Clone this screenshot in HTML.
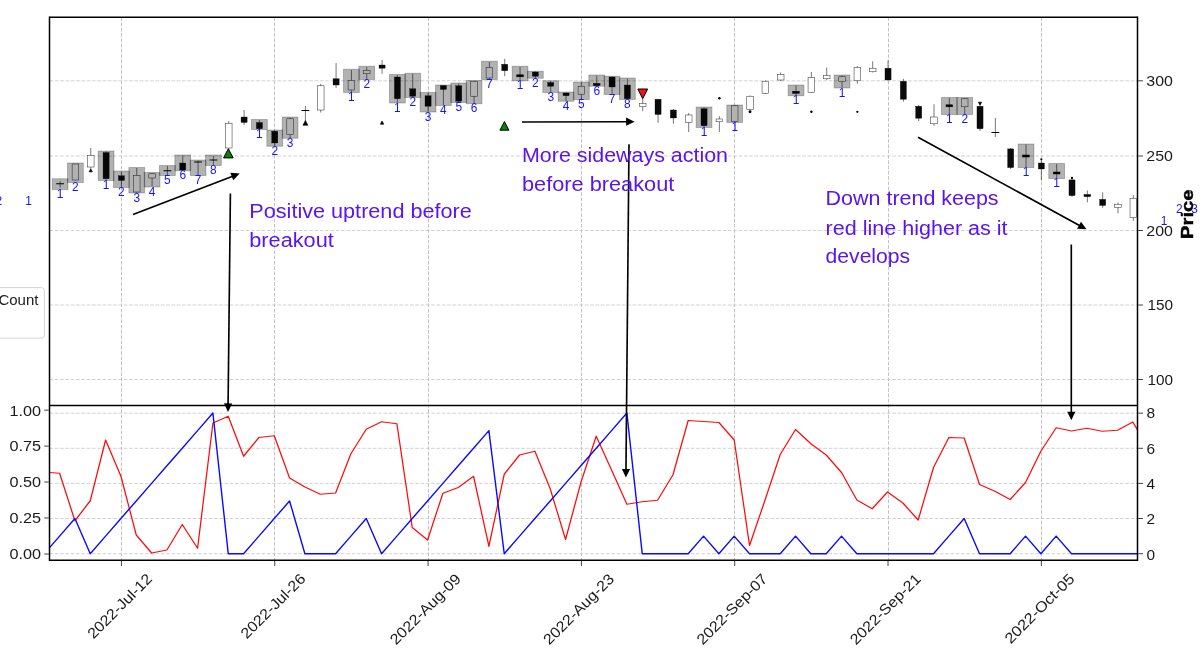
<!DOCTYPE html>
<html><head><meta charset="utf-8"><title>chart</title>
<style>
html,body{margin:0;padding:0;background:#fff;}
body{width:1200px;height:657px;overflow:hidden;font-family:"Liberation Sans",sans-serif;}
svg{display:block;will-change:transform;opacity:0.9999;}
text{font-family:"Liberation Sans",sans-serif;}
.tk{font-size:14.6px;fill:#1a1a1a;}
.lb{font-size:11.9px;fill:#1414ff;text-anchor:middle;}
.an{font-size:19.4px;fill:#5a14f0;}
</style></head><body>
<svg width="1200" height="657" viewBox="0 0 1200 657">
<rect width="1200" height="657" fill="#fff"/>
<defs>
<clipPath id="c1"><rect x="49.5" y="17.2" width="1088" height="388.3"/></clipPath>
<clipPath id="c2"><rect x="49.5" y="405.5" width="1088" height="154.7"/></clipPath>
</defs>

<g stroke="#b4b4b4" stroke-width="0.8" stroke-dasharray="3.7,1.6" fill="none">
<path d="M121.50 17.2V560.2"/>
<path d="M274.50 17.2V560.2"/>
<path d="M428.50 17.2V560.2"/>
<path d="M581.50 17.2V560.2"/>
<path d="M734.50 17.2V560.2"/>
<path d="M888.50 17.2V560.2"/>
<path d="M1041.50 17.2V560.2"/>
</g>
<g stroke="#c6c6c6" stroke-width="0.8" stroke-dasharray="3.7,1.6" fill="none">
<path d="M49.5 80.8H1137.5"/>
<path d="M49.5 156H1137.5"/>
<path d="M49.5 230.5H1137.5"/>
<path d="M49.5 305H1137.5"/>
<path d="M49.5 379.5H1137.5"/>
<path d="M49.5 413.2H1137.5"/>
<path d="M49.5 448.3H1137.5"/>
<path d="M49.5 483.4H1137.5"/>
<path d="M49.5 518.5H1137.5"/>
<path d="M49.5 553.7H1137.5"/>
</g>
<g clip-path="url(#c1)">
<path d="M60.10 181V187.5" stroke="#222" stroke-width="0.62"/>
<path d="M56.20 183.75H64.00" stroke="#000" stroke-width="1"/>
<path d="M75.43 164V180.5" stroke="#222" stroke-width="0.62"/>
<rect x="72.13" y="164" width="6.6" height="16.00" fill="#fff" stroke="#3a3a3a" stroke-width="0.55"/>
<path d="M90.76 148V168.75" stroke="#222" stroke-width="0.62"/>
<rect x="87.46" y="155.5" width="6.6" height="11.50" fill="#fff" stroke="#3a3a3a" stroke-width="0.55"/>
<path d="M106.10 151.5V180" stroke="#222" stroke-width="0.62"/>
<rect x="103.05" y="152.5" width="6.1" height="26.25" fill="#0a0a0a" stroke="#000" stroke-width="0.3"/>
<path d="M121.43 172V187" stroke="#222" stroke-width="0.62"/>
<rect x="118.38" y="175.75" width="6.1" height="4.75" fill="#0a0a0a" stroke="#000" stroke-width="0.3"/>
<path d="M136.76 168V192.5" stroke="#222" stroke-width="0.62"/>
<rect x="133.46" y="175.5" width="6.6" height="16.50" fill="#fff" stroke="#3a3a3a" stroke-width="0.55"/>
<path d="M152.09 173V186" stroke="#222" stroke-width="0.62"/>
<rect x="148.79" y="173.75" width="6.6" height="4.25" fill="#fff" stroke="#3a3a3a" stroke-width="0.55"/>
<path d="M167.42 166V175" stroke="#222" stroke-width="0.62"/>
<path d="M163.52 170.75H171.32" stroke="#000" stroke-width="1"/>
<path d="M182.76 155.5V170.5" stroke="#222" stroke-width="0.62"/>
<rect x="179.71" y="163" width="6.1" height="7.00" fill="#0a0a0a" stroke="#000" stroke-width="0.3"/>
<path d="M198.09 160.5V175" stroke="#222" stroke-width="0.62"/>
<path d="M194.19 162H201.99" stroke="#000" stroke-width="1"/>
<path d="M213.42 156V165" stroke="#222" stroke-width="0.62"/>
<path d="M209.52 160H217.32" stroke="#000" stroke-width="1"/>
<path d="M228.75 121V148.5" stroke="#222" stroke-width="0.62"/>
<rect x="225.45" y="123.25" width="6.6" height="24.75" fill="#fff" stroke="#3a3a3a" stroke-width="0.55"/>
<path d="M244.08 110V125" stroke="#222" stroke-width="0.62"/>
<rect x="241.03" y="117" width="6.1" height="5.50" fill="#0a0a0a" stroke="#000" stroke-width="0.3"/>
<path d="M259.42 120V129" stroke="#222" stroke-width="0.62"/>
<rect x="256.37" y="122.5" width="6.1" height="6.25" fill="#0a0a0a" stroke="#000" stroke-width="0.3"/>
<path d="M274.75 130.5V145.75" stroke="#222" stroke-width="0.62"/>
<rect x="271.70" y="131.25" width="6.1" height="11.75" fill="#0a0a0a" stroke="#000" stroke-width="0.3"/>
<path d="M290.08 117.5V138" stroke="#222" stroke-width="0.62"/>
<rect x="286.78" y="118.75" width="6.6" height="15.75" fill="#fff" stroke="#3a3a3a" stroke-width="0.55"/>
<path d="M305.41 106V121" stroke="#222" stroke-width="0.62"/>
<path d="M301.51 110.5H309.31" stroke="#000" stroke-width="1"/>
<path d="M320.74 83.75V112.5" stroke="#222" stroke-width="0.62"/>
<rect x="317.44" y="85.75" width="6.6" height="24.25" fill="#fff" stroke="#3a3a3a" stroke-width="0.55"/>
<path d="M336.08 63V88" stroke="#222" stroke-width="0.62"/>
<rect x="333.03" y="78.75" width="6.1" height="6.25" fill="#0a0a0a" stroke="#000" stroke-width="0.3"/>
<path d="M351.41 70V92" stroke="#222" stroke-width="0.62"/>
<rect x="348.11" y="80.5" width="6.6" height="9.50" fill="#fff" stroke="#3a3a3a" stroke-width="0.55"/>
<path d="M366.74 67V79" stroke="#222" stroke-width="0.62"/>
<rect x="363.44" y="70.5" width="6.6" height="3.25" fill="#fff" stroke="#3a3a3a" stroke-width="0.55"/>
<path d="M382.07 60V73.75" stroke="#222" stroke-width="0.62"/>
<rect x="379.02" y="65" width="6.1" height="3.25" fill="#0a0a0a" stroke="#000" stroke-width="0.3"/>
<path d="M397.40 75V102.5" stroke="#222" stroke-width="0.62"/>
<rect x="394.35" y="77" width="6.1" height="21.75" fill="#0a0a0a" stroke="#000" stroke-width="0.3"/>
<path d="M412.74 73.75V97" stroke="#222" stroke-width="0.62"/>
<rect x="409.69" y="88.75" width="6.1" height="7.50" fill="#0a0a0a" stroke="#000" stroke-width="0.3"/>
<path d="M428.07 93V111.5" stroke="#222" stroke-width="0.62"/>
<rect x="425.02" y="95.75" width="6.1" height="10.50" fill="#0a0a0a" stroke="#000" stroke-width="0.3"/>
<path d="M443.40 85.5V105" stroke="#222" stroke-width="0.62"/>
<rect x="440.35" y="85.5" width="6.1" height="4.00" fill="#0a0a0a" stroke="#000" stroke-width="0.3"/>
<path d="M458.73 83.5V102" stroke="#222" stroke-width="0.62"/>
<rect x="455.68" y="85.75" width="6.1" height="15.50" fill="#0a0a0a" stroke="#000" stroke-width="0.3"/>
<path d="M474.06 81V103" stroke="#222" stroke-width="0.62"/>
<rect x="470.76" y="81.25" width="6.6" height="15.00" fill="#fff" stroke="#3a3a3a" stroke-width="0.55"/>
<path d="M489.40 62V79" stroke="#222" stroke-width="0.62"/>
<rect x="486.10" y="67.5" width="6.6" height="10.50" fill="#fff" stroke="#3a3a3a" stroke-width="0.55"/>
<path d="M504.73 58.75V76.25" stroke="#222" stroke-width="0.62"/>
<rect x="501.68" y="64.25" width="6.1" height="6.50" fill="#0a0a0a" stroke="#000" stroke-width="0.3"/>
<path d="M520.06 67V80" stroke="#222" stroke-width="0.62"/>
<rect x="516.76" y="74.8" width="6.6" height="2.00" fill="#000" stroke="#000" stroke-width="0.5"/>
<path d="M535.39 71.5V78" stroke="#222" stroke-width="0.62"/>
<rect x="532.34" y="72" width="6.1" height="4.25" fill="#0a0a0a" stroke="#000" stroke-width="0.3"/>
<path d="M550.72 81V92" stroke="#222" stroke-width="0.62"/>
<rect x="547.67" y="82.5" width="6.1" height="3.75" fill="#0a0a0a" stroke="#000" stroke-width="0.3"/>
<path d="M566.06 92.5V101" stroke="#222" stroke-width="0.62"/>
<rect x="563.01" y="93" width="6.1" height="2.75" fill="#0a0a0a" stroke="#000" stroke-width="0.3"/>
<path d="M581.39 82.5V99" stroke="#222" stroke-width="0.62"/>
<rect x="578.09" y="86.25" width="6.6" height="8.00" fill="#fff" stroke="#3a3a3a" stroke-width="0.55"/>
<path d="M596.72 75.75V86" stroke="#222" stroke-width="0.62"/>
<rect x="593.42" y="83.5" width="6.6" height="2.00" fill="#000" stroke="#000" stroke-width="0.5"/>
<path d="M612.05 76.5V93.75" stroke="#222" stroke-width="0.62"/>
<rect x="609.00" y="77" width="6.1" height="10.00" fill="#0a0a0a" stroke="#000" stroke-width="0.3"/>
<path d="M627.38 78.75V99" stroke="#222" stroke-width="0.62"/>
<rect x="624.33" y="85" width="6.1" height="13.75" fill="#0a0a0a" stroke="#000" stroke-width="0.3"/>
<path d="M642.72 98.75V111.2" stroke="#222" stroke-width="0.62"/>
<rect x="639.42" y="103.6" width="6.6" height="3.10" fill="#fff" stroke="#3a3a3a" stroke-width="0.55"/>
<path d="M658.05 99V122.9" stroke="#222" stroke-width="0.62"/>
<rect x="655.00" y="99.25" width="6.1" height="15.25" fill="#0a0a0a" stroke="#000" stroke-width="0.3"/>
<path d="M673.38 109V123.75" stroke="#222" stroke-width="0.62"/>
<rect x="670.33" y="110" width="6.1" height="8.00" fill="#0a0a0a" stroke="#000" stroke-width="0.3"/>
<path d="M688.71 113V132" stroke="#222" stroke-width="0.62"/>
<rect x="685.41" y="115" width="6.6" height="7.50" fill="#fff" stroke="#3a3a3a" stroke-width="0.55"/>
<path d="M704.04 107.5V127" stroke="#222" stroke-width="0.62"/>
<rect x="700.99" y="108.75" width="6.1" height="17.00" fill="#0a0a0a" stroke="#000" stroke-width="0.3"/>
<path d="M719.38 116.25V132" stroke="#222" stroke-width="0.62"/>
<rect x="716.08" y="119" width="6.6" height="2.75" fill="#fff" stroke="#3a3a3a" stroke-width="0.55"/>
<path d="M734.71 105.5V122" stroke="#222" stroke-width="0.62"/>
<rect x="731.41" y="105.75" width="6.6" height="15.50" fill="#fff" stroke="#3a3a3a" stroke-width="0.55"/>
<path d="M750.04 95.5V110" stroke="#222" stroke-width="0.62"/>
<rect x="746.74" y="96.25" width="6.6" height="13.25" fill="#fff" stroke="#3a3a3a" stroke-width="0.55"/>
<path d="M765.37 80.5V94" stroke="#222" stroke-width="0.62"/>
<rect x="762.07" y="81.25" width="6.6" height="12.00" fill="#fff" stroke="#3a3a3a" stroke-width="0.55"/>
<path d="M780.70 72.5V81" stroke="#222" stroke-width="0.62"/>
<rect x="777.40" y="74.5" width="6.6" height="5.50" fill="#fff" stroke="#3a3a3a" stroke-width="0.55"/>
<path d="M796.04 85.5V95" stroke="#222" stroke-width="0.62"/>
<rect x="792.74" y="91.25" width="6.6" height="2.00" fill="#000" stroke="#000" stroke-width="0.5"/>
<path d="M811.37 72V93" stroke="#222" stroke-width="0.62"/>
<rect x="808.07" y="77.5" width="6.6" height="15.00" fill="#fff" stroke="#3a3a3a" stroke-width="0.55"/>
<path d="M826.70 67.5V80" stroke="#222" stroke-width="0.62"/>
<rect x="823.40" y="75.5" width="6.6" height="3.25" fill="#fff" stroke="#3a3a3a" stroke-width="0.55"/>
<path d="M842.03 75.5V87.5" stroke="#222" stroke-width="0.62"/>
<rect x="838.73" y="76.75" width="6.6" height="4.50" fill="#fff" stroke="#3a3a3a" stroke-width="0.55"/>
<path d="M857.36 66V83.75" stroke="#222" stroke-width="0.62"/>
<rect x="854.06" y="67.5" width="6.6" height="13.25" fill="#fff" stroke="#3a3a3a" stroke-width="0.55"/>
<path d="M872.70 61.25V72.5" stroke="#222" stroke-width="0.62"/>
<rect x="869.40" y="68.25" width="6.6" height="3.50" fill="#fff" stroke="#3a3a3a" stroke-width="0.55"/>
<path d="M888.03 60.5V80.5" stroke="#222" stroke-width="0.62"/>
<rect x="884.98" y="68.25" width="6.1" height="11.75" fill="#0a0a0a" stroke="#000" stroke-width="0.3"/>
<path d="M903.36 78.75V101.75" stroke="#222" stroke-width="0.62"/>
<rect x="900.31" y="81.25" width="6.1" height="18.00" fill="#0a0a0a" stroke="#000" stroke-width="0.3"/>
<path d="M918.69 105V121" stroke="#222" stroke-width="0.62"/>
<rect x="915.64" y="106.25" width="6.1" height="12.00" fill="#0a0a0a" stroke="#000" stroke-width="0.3"/>
<path d="M934.02 104.25V125.75" stroke="#222" stroke-width="0.62"/>
<rect x="930.72" y="117" width="6.6" height="6.75" fill="#fff" stroke="#3a3a3a" stroke-width="0.55"/>
<path d="M949.36 98V114" stroke="#222" stroke-width="0.62"/>
<rect x="946.06" y="104.8" width="6.6" height="2.00" fill="#000" stroke="#000" stroke-width="0.5"/>
<path d="M964.69 98V114" stroke="#222" stroke-width="0.62"/>
<rect x="961.39" y="98.75" width="6.6" height="8.00" fill="#fff" stroke="#3a3a3a" stroke-width="0.55"/>
<path d="M980.02 105.5V131" stroke="#222" stroke-width="0.62"/>
<rect x="976.97" y="106.25" width="6.1" height="22.50" fill="#0a0a0a" stroke="#000" stroke-width="0.3"/>
<path d="M995.35 118V137" stroke="#222" stroke-width="0.62"/>
<path d="M991.45 132.5H999.25" stroke="#000" stroke-width="1"/>
<path d="M1010.68 148V169" stroke="#222" stroke-width="0.62"/>
<rect x="1007.63" y="148.9" width="6.1" height="18.70" fill="#0a0a0a" stroke="#000" stroke-width="0.3"/>
<path d="M1026.02 144.5V167" stroke="#222" stroke-width="0.62"/>
<rect x="1022.72" y="155.0" width="6.6" height="2.00" fill="#000" stroke="#000" stroke-width="0.5"/>
<path d="M1041.35 160V180.4" stroke="#222" stroke-width="0.62"/>
<rect x="1038.30" y="163" width="6.1" height="6.00" fill="#0a0a0a" stroke="#000" stroke-width="0.3"/>
<path d="M1056.68 164V178" stroke="#222" stroke-width="0.62"/>
<rect x="1053.38" y="172.0" width="6.6" height="2.00" fill="#000" stroke="#000" stroke-width="0.5"/>
<path d="M1072.01 179V197" stroke="#222" stroke-width="0.62"/>
<rect x="1068.96" y="179.9" width="6.1" height="15.70" fill="#0a0a0a" stroke="#000" stroke-width="0.3"/>
<path d="M1087.34 190.5V202.4" stroke="#222" stroke-width="0.62"/>
<rect x="1084.04" y="194.6" width="6.6" height="2.00" fill="#000" stroke="#000" stroke-width="0.5"/>
<path d="M1102.68 192.3V207.9" stroke="#222" stroke-width="0.62"/>
<rect x="1099.63" y="199.3" width="6.1" height="6.20" fill="#0a0a0a" stroke="#000" stroke-width="0.3"/>
<path d="M1118.01 202.4V213.4" stroke="#222" stroke-width="0.62"/>
<rect x="1114.71" y="204.25" width="6.6" height="3.25" fill="#fff" stroke="#3a3a3a" stroke-width="0.55"/>
<path d="M1133.34 195V220.75" stroke="#222" stroke-width="0.62"/>
<rect x="1130.04" y="198.4" width="6.6" height="19.20" fill="#fff" stroke="#3a3a3a" stroke-width="0.55"/>
<rect x="52.20" y="178.75" width="15.8" height="10.75" fill="#000" fill-opacity="0.3" stroke="#000" stroke-opacity="0.25" stroke-width="0.9"/>
<rect x="67.53" y="163" width="15.8" height="19.50" fill="#000" fill-opacity="0.3" stroke="#000" stroke-opacity="0.25" stroke-width="0.9"/>
<rect x="98.20" y="151" width="15.8" height="29.50" fill="#000" fill-opacity="0.3" stroke="#000" stroke-opacity="0.25" stroke-width="0.9"/>
<rect x="113.53" y="171" width="15.8" height="16.50" fill="#000" fill-opacity="0.3" stroke="#000" stroke-opacity="0.25" stroke-width="0.9"/>
<rect x="128.86" y="167.5" width="15.8" height="25.50" fill="#000" fill-opacity="0.3" stroke="#000" stroke-opacity="0.25" stroke-width="0.9"/>
<rect x="144.19" y="172.5" width="15.8" height="14.50" fill="#000" fill-opacity="0.3" stroke="#000" stroke-opacity="0.25" stroke-width="0.9"/>
<rect x="159.52" y="165.5" width="15.8" height="10.00" fill="#000" fill-opacity="0.3" stroke="#000" stroke-opacity="0.25" stroke-width="0.9"/>
<rect x="174.86" y="155" width="15.8" height="15.75" fill="#000" fill-opacity="0.3" stroke="#000" stroke-opacity="0.25" stroke-width="0.9"/>
<rect x="190.19" y="160" width="15.8" height="15.50" fill="#000" fill-opacity="0.3" stroke="#000" stroke-opacity="0.25" stroke-width="0.9"/>
<rect x="205.52" y="155" width="15.8" height="10.50" fill="#000" fill-opacity="0.3" stroke="#000" stroke-opacity="0.25" stroke-width="0.9"/>
<rect x="251.52" y="119.5" width="15.8" height="10.00" fill="#000" fill-opacity="0.3" stroke="#000" stroke-opacity="0.25" stroke-width="0.9"/>
<rect x="266.85" y="130" width="15.8" height="16.25" fill="#000" fill-opacity="0.3" stroke="#000" stroke-opacity="0.25" stroke-width="0.9"/>
<rect x="282.18" y="117" width="15.8" height="21.25" fill="#000" fill-opacity="0.3" stroke="#000" stroke-opacity="0.25" stroke-width="0.9"/>
<rect x="343.51" y="69.25" width="15.8" height="23.25" fill="#000" fill-opacity="0.3" stroke="#000" stroke-opacity="0.25" stroke-width="0.9"/>
<rect x="358.84" y="66.25" width="15.8" height="13.25" fill="#000" fill-opacity="0.3" stroke="#000" stroke-opacity="0.25" stroke-width="0.9"/>
<rect x="389.50" y="74.5" width="15.8" height="28.50" fill="#000" fill-opacity="0.3" stroke="#000" stroke-opacity="0.25" stroke-width="0.9"/>
<rect x="404.84" y="73.25" width="15.8" height="24.25" fill="#000" fill-opacity="0.3" stroke="#000" stroke-opacity="0.25" stroke-width="0.9"/>
<rect x="420.17" y="92.5" width="15.8" height="19.50" fill="#000" fill-opacity="0.3" stroke="#000" stroke-opacity="0.25" stroke-width="0.9"/>
<rect x="435.50" y="85" width="15.8" height="20.50" fill="#000" fill-opacity="0.3" stroke="#000" stroke-opacity="0.25" stroke-width="0.9"/>
<rect x="450.83" y="83" width="15.8" height="19.50" fill="#000" fill-opacity="0.3" stroke="#000" stroke-opacity="0.25" stroke-width="0.9"/>
<rect x="466.16" y="80.5" width="15.8" height="23.25" fill="#000" fill-opacity="0.3" stroke="#000" stroke-opacity="0.25" stroke-width="0.9"/>
<rect x="481.50" y="61.25" width="15.8" height="18.25" fill="#000" fill-opacity="0.3" stroke="#000" stroke-opacity="0.25" stroke-width="0.9"/>
<rect x="512.16" y="66.25" width="15.8" height="14.50" fill="#000" fill-opacity="0.3" stroke="#000" stroke-opacity="0.25" stroke-width="0.9"/>
<rect x="527.49" y="71.25" width="15.8" height="7.00" fill="#000" fill-opacity="0.3" stroke="#000" stroke-opacity="0.25" stroke-width="0.9"/>
<rect x="542.82" y="80.75" width="15.8" height="11.75" fill="#000" fill-opacity="0.3" stroke="#000" stroke-opacity="0.25" stroke-width="0.9"/>
<rect x="558.16" y="92" width="15.8" height="9.25" fill="#000" fill-opacity="0.3" stroke="#000" stroke-opacity="0.25" stroke-width="0.9"/>
<rect x="573.49" y="82" width="15.8" height="17.50" fill="#000" fill-opacity="0.3" stroke="#000" stroke-opacity="0.25" stroke-width="0.9"/>
<rect x="588.82" y="75" width="15.8" height="11.25" fill="#000" fill-opacity="0.3" stroke="#000" stroke-opacity="0.25" stroke-width="0.9"/>
<rect x="604.15" y="76.25" width="15.8" height="18.25" fill="#000" fill-opacity="0.3" stroke="#000" stroke-opacity="0.25" stroke-width="0.9"/>
<rect x="619.48" y="78" width="15.8" height="21.50" fill="#000" fill-opacity="0.3" stroke="#000" stroke-opacity="0.25" stroke-width="0.9"/>
<rect x="696.14" y="107" width="15.8" height="20.50" fill="#000" fill-opacity="0.3" stroke="#000" stroke-opacity="0.25" stroke-width="0.9"/>
<rect x="726.81" y="105" width="15.8" height="17.50" fill="#000" fill-opacity="0.3" stroke="#000" stroke-opacity="0.25" stroke-width="0.9"/>
<rect x="788.14" y="85" width="15.8" height="10.75" fill="#000" fill-opacity="0.3" stroke="#000" stroke-opacity="0.25" stroke-width="0.9"/>
<rect x="834.13" y="75" width="15.8" height="13.00" fill="#000" fill-opacity="0.3" stroke="#000" stroke-opacity="0.25" stroke-width="0.9"/>
<rect x="941.46" y="97.5" width="15.8" height="17.00" fill="#000" fill-opacity="0.3" stroke="#000" stroke-opacity="0.25" stroke-width="0.9"/>
<rect x="956.79" y="97.5" width="15.8" height="17.00" fill="#000" fill-opacity="0.3" stroke="#000" stroke-opacity="0.25" stroke-width="0.9"/>
<rect x="1018.12" y="144" width="15.8" height="23.60" fill="#000" fill-opacity="0.3" stroke="#000" stroke-opacity="0.25" stroke-width="0.9"/>
<rect x="1048.78" y="163.5" width="15.8" height="15.10" fill="#000" fill-opacity="0.3" stroke="#000" stroke-opacity="0.25" stroke-width="0.9"/>
</g>
<text class="lb" x="60.10" y="198.00">1</text>
<text class="lb" x="75.43" y="191.00">2</text>
<text class="lb" x="106.10" y="189.00">1</text>
<text class="lb" x="121.43" y="196.00">2</text>
<text class="lb" x="136.76" y="201.50">3</text>
<text class="lb" x="152.09" y="195.50">4</text>
<text class="lb" x="167.42" y="184.00">5</text>
<text class="lb" x="182.76" y="179.25">6</text>
<text class="lb" x="198.09" y="184.00">7</text>
<text class="lb" x="213.42" y="174.00">8</text>
<text class="lb" x="259.42" y="138.00">1</text>
<text class="lb" x="274.75" y="154.75">2</text>
<text class="lb" x="290.08" y="146.75">3</text>
<text class="lb" x="351.41" y="101.00">1</text>
<text class="lb" x="366.74" y="88.00">2</text>
<text class="lb" x="397.40" y="111.50">1</text>
<text class="lb" x="412.74" y="106.00">2</text>
<text class="lb" x="428.07" y="120.50">3</text>
<text class="lb" x="443.40" y="114.00">4</text>
<text class="lb" x="458.73" y="111.00">5</text>
<text class="lb" x="474.06" y="112.25">6</text>
<text class="lb" x="489.40" y="88.00">7</text>
<text class="lb" x="520.06" y="89.25">1</text>
<text class="lb" x="535.39" y="86.75">2</text>
<text class="lb" x="550.72" y="101.00">3</text>
<text class="lb" x="566.06" y="109.75">4</text>
<text class="lb" x="581.39" y="108.00">5</text>
<text class="lb" x="596.72" y="94.75">6</text>
<text class="lb" x="612.05" y="103.00">7</text>
<text class="lb" x="627.38" y="108.00">8</text>
<text class="lb" x="704.04" y="136.00">1</text>
<text class="lb" x="734.71" y="131.00">1</text>
<text class="lb" x="796.04" y="104.25">1</text>
<text class="lb" x="842.03" y="96.50">1</text>
<text class="lb" x="949.36" y="123.00">1</text>
<text class="lb" x="964.69" y="123.00">2</text>
<text class="lb" x="1026.02" y="176.10">1</text>
<text class="lb" x="1056.68" y="187.10">1</text>
<text class="lb" x="-1.23" y="205.4">2</text>
<text class="lb" x="28.44" y="205.4">1</text>
<text class="lb" x="1164.00" y="224.5">1</text>
<text class="lb" x="1179.34" y="213.2">2</text>
<text class="lb" x="1194.67" y="212.6">3</text>
<path d="M90.76 168.9L92.36 171.8H89.16Z" fill="#000" stroke="#000" stroke-width="0.7"/>
<path d="M228.35 148.7L233.15 157.9H223.55Z" fill="#0a800a" stroke="#000" stroke-width="1.0"/>
<path d="M305.41 120.6L307.81 125.2H303.01Z" fill="#000" stroke="#000" stroke-width="0.7"/>
<path d="M382.07 121L383.67 124.2H380.47Z" fill="#000" stroke="#000" stroke-width="0.7"/>
<path d="M504.43 121.6L508.93 130.2H499.93Z" fill="#0a800a" stroke="#000" stroke-width="1.0"/>
<path d="M642.72 98.7L647.62 89.0H637.82Z" fill="#f01414" stroke="#000" stroke-width="1.0"/>
<path d="M980.02 105.3L981.62 102.2H978.42Z" fill="#000" stroke="#000" stroke-width="0.7"/>
<circle cx="719.38" cy="98.3" r="1.25" fill="#000"/>
<circle cx="750.04" cy="111.8" r="1.45" fill="#000"/>
<circle cx="811.37" cy="111.8" r="1.2" fill="#000"/>
<circle cx="857.36" cy="111.8" r="1.15" fill="#000"/>
<circle cx="1041.35" cy="159.2" r="1.05" fill="#000"/>
<circle cx="1072.01" cy="178" r="1.15" fill="#000"/>
<g clip-path="url(#c2)" fill="none" stroke-linejoin="round">
<polyline points="49.5,472.5 59.60,473.25 74.93,520.75 90.26,500.75 105.60,440 120.93,476.25 136.26,535 151.59,553 166.92,550 182.26,524.5 197.59,548.25 212.92,423 228.25,416.25 243.58,456.25 258.92,437.5 274.25,435.75 289.58,478 304.91,487 320.24,494.25 335.58,493 350.91,453.75 366.24,429.25 381.57,421.75 396.90,423.75 412.24,527.5 427.57,540 442.90,493.25 458.23,487.5 473.56,476.25 488.90,546.25 504.23,474.25 519.56,455 534.89,451.25 550.22,488.75 565.56,539.5 580.89,482.5 596.22,436.25 611.55,470 626.88,504.25 642.22,501.75 657.55,500.25 672.88,475 688.21,420.5 703.54,421.5 718.88,422.5 734.21,440 749.54,545.5 764.87,500.5 780.20,454.5 795.54,429.5 810.87,443.75 826.20,455 841.53,472.5 856.86,500 872.20,508.75 887.53,492 902.86,503 918.19,520 933.52,467.5 948.86,437.5 964.19,438 979.52,484.5 994.85,491.25 1010.18,499.5 1025.52,482.5 1040.85,451.25 1056.18,427.75 1071.51,431 1086.84,428.25 1102.18,431.25 1117.51,430.25 1132.84,422 1137.5,430" stroke="#ff0a0a" stroke-width="1.25"/>
<polyline points="44.27,553.70 59.60,536.12 74.93,518.54 90.26,553.70 105.60,536.12 120.93,518.54 136.26,500.96 151.59,483.38 166.92,465.80 182.26,448.22 197.59,430.64 212.92,413.06 228.25,553.70 243.58,553.70 258.92,536.12 274.25,518.54 289.58,500.96 304.91,553.70 320.24,553.70 335.58,553.70 350.91,536.12 366.24,518.54 381.57,553.70 396.90,536.12 412.24,518.54 427.57,500.96 442.90,483.38 458.23,465.80 473.56,448.22 488.90,430.64 504.23,553.70 519.56,536.12 534.89,518.54 550.22,500.96 565.56,483.38 580.89,465.80 596.22,448.22 611.55,430.64 626.88,413.06 642.22,553.70 657.55,553.70 672.88,553.70 688.21,553.70 703.54,536.12 718.88,553.70 734.21,536.12 749.54,553.70 764.87,553.70 780.20,553.70 795.54,536.12 810.87,553.70 826.20,553.70 841.53,536.12 856.86,553.70 872.20,553.70 887.53,553.70 902.86,553.70 918.19,553.70 933.52,553.70 948.86,536.12 964.19,518.54 979.52,553.70 994.85,553.70 1010.18,553.70 1025.52,536.12 1040.85,553.70 1056.18,536.12 1071.51,553.70 1086.84,553.70 1102.18,553.70 1117.51,553.70 1132.84,553.70 1148.17,553.70" stroke="#0a0aff" stroke-width="1.4"/>
</g>
<g stroke="#000" stroke-width="1.5" fill="none">
<path d="M49.5 17.2H1137.5"/>
<path d="M49.5 16.45V560.95"/>
<path d="M1137.5 16.45V560.95"/>
<path d="M49.5 405.5H1137.5"/>
<path d="M49.5 560.2H1137.5"/>
</g>
<g stroke="#444" stroke-width="1">
<path d="M121.43 560.9V566"/>
<path d="M274.75 560.9V566"/>
<path d="M428.07 560.9V566"/>
<path d="M581.39 560.9V566"/>
<path d="M734.71 560.9V566"/>
<path d="M888.03 560.9V566"/>
<path d="M1041.35 560.9V566"/>
<path d="M1138.2 80.8H1143"/>
<path d="M1138.2 156H1143"/>
<path d="M1138.2 230.5H1143"/>
<path d="M1138.2 305H1143"/>
<path d="M1138.2 379.5H1143"/>
<path d="M1138.2 413.2H1143"/>
<path d="M1138.2 448.3H1143"/>
<path d="M1138.2 483.4H1143"/>
<path d="M1138.2 518.5H1143"/>
<path d="M1138.2 553.7H1143"/>
<path d="M44.3 410.2H48.8"/>
<path d="M44.3 446.1H48.8"/>
<path d="M44.3 482H48.8"/>
<path d="M44.3 518H48.8"/>
<path d="M44.3 554H48.8"/>
</g>
<text class="tk" x="1146.3" y="86.1" textLength="26.6" lengthAdjust="spacingAndGlyphs">300</text>
<text class="tk" x="1146.3" y="161.3" textLength="26.6" lengthAdjust="spacingAndGlyphs">250</text>
<text class="tk" x="1146.3" y="235.8" textLength="26.6" lengthAdjust="spacingAndGlyphs">200</text>
<text class="tk" x="1147.5" y="310.3" textLength="25.6" lengthAdjust="spacingAndGlyphs">150</text>
<text class="tk" x="1147.5" y="384.8" textLength="25.6" lengthAdjust="spacingAndGlyphs">100</text>
<text class="tk" x="1146.6" y="418.3" textLength="8.6" lengthAdjust="spacingAndGlyphs">8</text>
<text class="tk" x="1146.6" y="453.90000000000003" textLength="8.6" lengthAdjust="spacingAndGlyphs">6</text>
<text class="tk" x="1146.6" y="489.1" textLength="8.6" lengthAdjust="spacingAndGlyphs">4</text>
<text class="tk" x="1146.6" y="524.1999999999999" textLength="8.6" lengthAdjust="spacingAndGlyphs">2</text>
<text class="tk" x="1146.6" y="559.5" textLength="8.6" lengthAdjust="spacingAndGlyphs">0</text>
<text class="tk" x="9.4" y="415.7" textLength="31.6" lengthAdjust="spacingAndGlyphs">1.00</text>
<text class="tk" x="9.4" y="451.40000000000003" textLength="31.6" lengthAdjust="spacingAndGlyphs">0.75</text>
<text class="tk" x="9.4" y="487.40000000000003" textLength="31.6" lengthAdjust="spacingAndGlyphs">0.50</text>
<text class="tk" x="9.4" y="523.3" textLength="31.6" lengthAdjust="spacingAndGlyphs">0.25</text>
<text class="tk" x="9.4" y="559.3" textLength="31.6" lengthAdjust="spacingAndGlyphs">0.00</text>
<text class="tk" style="font-size:14.8px" text-anchor="end" transform="translate(153.13,579.8) rotate(-45)" textLength="84.5" lengthAdjust="spacingAndGlyphs">2022-Jul-12</text>
<text class="tk" style="font-size:14.8px" text-anchor="end" transform="translate(306.45,579.8) rotate(-45)" textLength="84.5" lengthAdjust="spacingAndGlyphs">2022-Jul-26</text>
<text class="tk" style="font-size:14.8px" text-anchor="end" transform="translate(461.77,579.8) rotate(-45)" textLength="93" lengthAdjust="spacingAndGlyphs">2022-Aug-09</text>
<text class="tk" style="font-size:14.8px" text-anchor="end" transform="translate(615.09,579.8) rotate(-45)" textLength="93" lengthAdjust="spacingAndGlyphs">2022-Aug-23</text>
<text class="tk" style="font-size:14.8px" text-anchor="end" transform="translate(768.41,579.8) rotate(-45)" textLength="93" lengthAdjust="spacingAndGlyphs">2022-Sep-07</text>
<text class="tk" style="font-size:14.8px" text-anchor="end" transform="translate(921.73,579.8) rotate(-45)" textLength="93" lengthAdjust="spacingAndGlyphs">2022-Sep-21</text>
<text class="tk" style="font-size:14.8px" text-anchor="end" transform="translate(1075.35,579.8) rotate(-45)" textLength="91.5" lengthAdjust="spacingAndGlyphs">2022-Oct-05</text>
<text transform="translate(1193.4,214.2) rotate(-90)" text-anchor="middle" font-size="17" font-weight="bold" fill="#000" stroke="#000" stroke-width="0.45" textLength="49.6" lengthAdjust="spacingAndGlyphs">Price</text>
<rect x="-10" y="287.6" width="54.4" height="50.6" rx="3" ry="3" fill="#fff" stroke="#d4d4d4" stroke-width="1"/>
<text class="tk" x="-1.6" y="305.2" textLength="40" lengthAdjust="spacingAndGlyphs">Count</text>
<path d="M133.00 214.40L232.70 176.18" stroke="#000" stroke-width="1.65" fill="none"/>
<path d="M239.70 173.50L233.23 180.37L230.30 172.71Z" fill="#000"/>
<path d="M230.40 193.50L228.08 404.40" stroke="#000" stroke-width="1.65" fill="none"/>
<path d="M228.00 411.90L223.99 403.36L232.19 403.45Z" fill="#000"/>
<path d="M522.00 122.00L627.10 121.72" stroke="#000" stroke-width="1.65" fill="none"/>
<path d="M634.60 121.70L626.11 125.82L626.09 117.62Z" fill="#000"/>
<path d="M629.00 144.30L625.97 470.00" stroke="#000" stroke-width="1.65" fill="none"/>
<path d="M625.90 477.50L621.88 468.96L630.08 469.04Z" fill="#000"/>
<path d="M918.00 137.20L1079.92 225.70" stroke="#000" stroke-width="1.65" fill="none"/>
<path d="M1086.50 229.30L1077.08 228.82L1081.01 221.63Z" fill="#000"/>
<path d="M1071.30 244.50L1071.30 412.70" stroke="#000" stroke-width="1.65" fill="none"/>
<path d="M1071.30 420.20L1067.20 411.70L1075.40 411.70Z" fill="#000"/>
<text class="an" x="249.3" y="217.5" textLength="222.5" lengthAdjust="spacingAndGlyphs">Positive uptrend before</text>
<text class="an" x="249.3" y="246.8" textLength="84.5" lengthAdjust="spacingAndGlyphs">breakout</text>
<text class="an" x="522" y="161.8" textLength="206" lengthAdjust="spacingAndGlyphs">More sideways action</text>
<text class="an" x="522" y="190.8" textLength="152.3" lengthAdjust="spacingAndGlyphs">before breakout</text>
<text class="an" x="825.6" y="205.4" textLength="173" lengthAdjust="spacingAndGlyphs">Down trend keeps</text>
<text class="an" x="825.6" y="235" textLength="182" lengthAdjust="spacingAndGlyphs">red line higher as it</text>
<text class="an" x="825.6" y="263" textLength="84.5" lengthAdjust="spacingAndGlyphs">develops</text>
</svg></body></html>
